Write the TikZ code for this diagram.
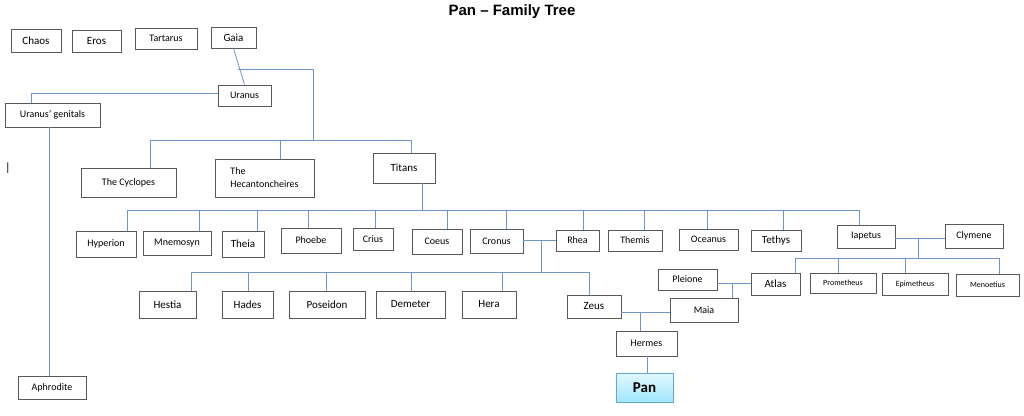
\documentclass[tikz,border=0pt]{standalone}
\usepackage{fontspec}
\setmainfont{Carlito}
\newfontfamily\titlefont{Liberation Sans}
\begin{document}
\begin{tikzpicture}[x=1pt,y=-1pt,
  bx/.style={draw=black!65,line width=0.8pt,fill=white,inner sep=0pt,align=left},
  ln/.style={draw=blue!35!cyan!20!gray,color={rgb,255:red,110;green,150;blue,200},line width=0.8pt}]
\useasboundingbox (0,0) rectangle (1024,415);
\newcommand\bx[7]{\node[bx,minimum width={(#4-#2)*1pt},minimum height={(#5-#3)*1pt},font=\fontsize{#7}{#7}\selectfont] (#1) at ({(#2+#4)/2},{(#3+#5)/2}) {#6};}
\node[font=\titlefont\bfseries\fontsize{15}{15}\selectfont] (title) at (512,12) {Pan – Family Tree};
\node[font=\fontsize{12}{12}\selectfont] (bar) at (8,168) {|};
% lines first
\coordinate (g1) at (238,69); \coordinate (g2) at (313,69); \coordinate (g3) at (313,140);
\coordinate (c1) at (150,140); \coordinate (c2) at (411,140); \coordinate (h1) at (280,140);
\coordinate (u1) at (31,93);
\coordinate (t1) at (422,210); \coordinate (tl) at (127,210); \coordinate (tr) at (859,210);
\coordinate (cr) at (541,240); \coordinate (cr2) at (541,272); \coordinate (cl) at (191,272); \coordinate (crr) at (589,272);
\coordinate (ic) at (918,238); \coordinate (ic2) at (918,258); \coordinate (il) at (795,258); \coordinate (ir) at (999,258);
\coordinate (pa) at (732,283); \coordinate (zm) at (640,312);
\bx{chaos}{11}{29}{61}{52}{Chaos}{11}
\bx{eros}{72}{30}{121}{52}{Eros}{11}
\bx{tartarus}{135}{28}{197}{49}{Tartarus}{10}
\bx{gaia}{211}{27}{256}{48}{Gaia}{11}
\bx{uranus}{218}{85}{271}{106}{Uranus}{10}
\bx{genitals}{5}{103}{100}{127}{Uranus’ genitals}{10}
\bx{cyclopes}{81}{168}{176}{197}{The Cyclopes}{10}
\bx{hecat}{215}{159}{314}{197}{The\\[3pt]Hecantoncheires}{10}
\bx{titans}{373}{153}{435}{183}{Titans}{11}
\bx{hyperion}{76}{231}{136}{257}{Hyperion}{10}
\bx{mnemosyn}{143}{231}{211}{255}{Mnemosyn}{10}
\bx{theia}{222}{231}{264}{257}{Theia}{11}
\bx{phoebe}{281}{228}{341}{253}{Phoebe}{10}
\bx{crius}{353}{228}{393}{250}{Crius}{10}
\bx{coeus}{412}{229}{462}{254}{Coeus}{10}
\bx{cronus}{470}{229}{523}{253}{Cronus}{10}
\bx{rhea}{556}{230}{599}{251}{Rhea}{10}
\bx{themis}{608}{230}{662}{251}{Themis}{10}
\bx{oceanus}{679}{229}{738}{250}{Oceanus}{10}
\bx{tethys}{751}{230}{801}{251}{Tethys}{11}
\bx{iapetus}{837}{225}{895}{248}{Iapetus}{10}
\bx{clymene}{945}{224}{1003}{248}{Clymene}{10}
\bx{hestia}{139}{291}{196}{318}{Hestia}{11}
\bx{hades}{222}{291}{273}{318}{Hades}{11}
\bx{poseidon}{289}{291}{365}{318}{Poseidon}{11}
\bx{demeter}{376}{291}{445}{318}{Demeter}{11}
\bx{hera}{462}{291}{516}{318}{Hera}{11}
\bx{zeus}{567}{295}{621}{318}{Zeus}{11}
\bx{maia}{670}{298}{738}{322}{Maia}{10}
\bx{pleione}{658}{269}{717}{290}{Pleione}{10}
\bx{atlas}{751}{273}{800}{295}{Atlas}{11}
\bx{prometheus}{810}{273}{876}{293}{Prometheus}{8}
\bx{epimetheus}{882}{273}{948}{295}{Epimetheus}{8}
\bx{menoetius}{956}{274}{1019}{296}{Menoetius}{8}
\bx{hermes}{616}{331}{677}{356}{Hermes}{10}
\bx{aphrodite}{18}{376}{86}{399}{Aphrodite}{10}
\node[draw={rgb,255:red,100;green,170;blue,200},line width=0.6pt,top color={rgb,255:red,225;green,248;blue,255},bottom color={rgb,255:red,160;green,230;blue,250},minimum width=57pt,minimum height=29pt,inner sep=0pt,font=\bfseries\fontsize{15}{15}\selectfont] (pan) at (644.5,387.5) {Pan};
\begin{scope}[ln]
\draw (gaia.south) -- (uranus.north);
\draw (g1) -- (g2) -- (g3);
\draw (c1) -- (c2);
\draw (c1) -- (c1|-cyclopes.north);
\draw (h1) -- (h1|-hecat.north);
\draw (c2) -- (c2|-titans.north);
\draw (uranus.west|-u1) -- (u1) -- (u1|-genitals.north);
\draw (49,127) -- (49,376);
\draw (t1|-titans.south) -- (t1);
\draw (tl) -- (tr);
\foreach \n/\x in {hyperion/127,mnemosyn/199,theia/257,phoebe/308,crius/375,coeus/447,cronus/506,rhea/583,themis/644,oceanus/707,tethys/783,iapetus/859}
  \draw (\x,210) -- (\x,0 |- \n.north);
\draw (cronus.east|-cr) -- (rhea.west|-cr);
\draw (cr) -- (cr2); \draw (cl) -- (crr);
\foreach \n/\x in {hestia/191,hades/248,poseidon/326,demeter/411,hera/502,zeus/589}
  \draw (\x,272) -- (\x,0 |- \n.north);
\draw (iapetus.east|-ic) -- (clymene.west|-ic);
\draw (ic) -- (ic2); \draw (il) -- (ir);
\foreach \n/\x in {atlas/795,prometheus/838,epimetheus/905,menoetius/999}
  \draw (\x,258) -- (\x,0 |- \n.north);
\draw (pleione.east|-pa) -- (atlas.west|-pa);
\draw (pa) -- (pa|-maia.north);
\draw (zeus.east|-zm) -- (maia.west|-zm);
\draw (zm) -- (zm|-hermes.north);
\draw (647,356) -- (647,373);
\end{scope}
\end{tikzpicture}
\end{document}
